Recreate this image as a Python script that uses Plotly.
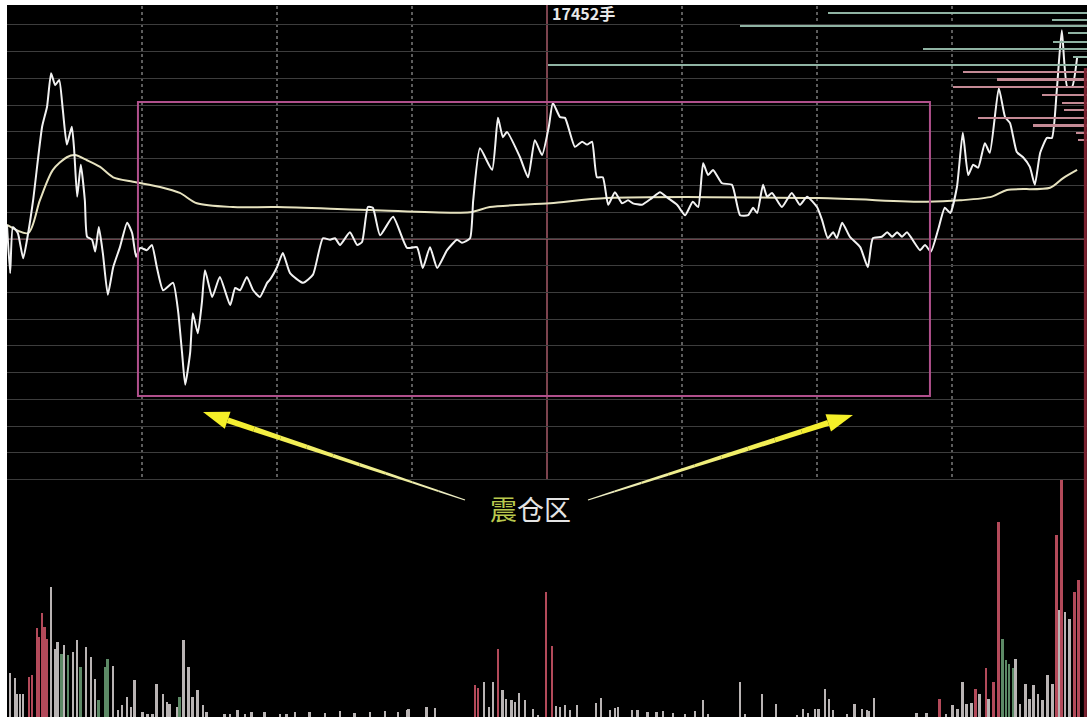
import plotly.graph_objects as go

# ---- price panel (minutes after open, price) --------------------------------
PREV_CLOSE = 7.20
GRID_STEP = 0.036

PRICE_T = [0.0, 0.7, 1.3, 2.4, 3.6, 4.7, 5.8, 7.8, 8.9, 9.8, 10.7, 11.6, 12.4, 13.3, 14.4, 14.9,
           15.6, 16.4, 17.3, 17.8, 18.9, 19.6, 20.4, 21.3, 22.4, 23.6, 25.1, 26.7, 27.8, 28.7,
           29.6, 31.1, 32.2, 33.3, 34.7, 36.9, 38.0, 38.9, 39.6, 40.7, 41.3, 42.4, 43.3, 44.0,
           45.6, 47.3, 49.6, 50.7, 51.8, 53.3, 54.7, 56.2, 57.8, 58.4, 60.0, 61.3, 62.9, 65.8,
           68.0, 70.2, 71.8, 72.9, 74.0, 76.2, 77.8, 78.9, 80.2, 81.3, 82.9, 85.8, 88.9, 91.1,
           92.4, 94.0, 95.6, 97.8, 100.0, 101.1, 102.9, 103.6, 105.1, 107.8, 109.1, 110.2, 111.1,
           114.0, 115.8, 117.3, 118.9, 120.4, 121.3, 122.9, 124.0, 126.2, 127.8, 128.9, 130.0,
           131.1, 132.4, 133.6, 135.1, 136.7, 138.0, 139.1, 141.1, 143.3, 145.1, 146.9, 148.9,
           150.7, 152.4, 153.6, 154.7, 155.8, 156.9, 158.9, 161.1, 162.9, 164.7, 165.8, 166.7,
           168.0, 168.9, 170.0, 172.2, 174.4, 176.2, 177.8, 180.0, 181.1, 182.4, 183.6, 184.4,
           185.6, 187.3, 189.6, 191.3, 192.4, 194.4, 195.6, 196.7, 197.8, 198.9, 200.0, 202.9,
           204.0, 205.3, 206.9, 208.4, 209.6, 211.1, 212.4, 213.6, 214.7, 215.8, 217.3, 218.4,
           220.4, 221.8, 222.9, 224.4, 225.8, 227.3, 228.4, 229.6, 231.1, 232.2, 233.3, 234.4,
           235.6, 236.7, 237.8]
PRICE = [7.219, 7.154, 7.216, 7.208, 7.174, 7.208, 7.252, 7.351, 7.378, 7.423, 7.407, 7.414, 7.374,
         7.327, 7.351, 7.322, 7.257, 7.300, 7.252, 7.203, 7.199, 7.183, 7.216, 7.181, 7.125, 7.162,
         7.189, 7.222, 7.208, 7.176, 7.188, 7.185, 7.192, 7.162, 7.131, 7.141, 7.104, 7.047, 7.004,
         7.047, 7.100, 7.073, 7.114, 7.158, 7.122, 7.149, 7.111, 7.134, 7.131, 7.149, 7.131, 7.122,
         7.141, 7.145, 7.162, 7.181, 7.154, 7.141, 7.152, 7.201, 7.199, 7.201, 7.192, 7.209, 7.192,
         7.196, 7.243, 7.242, 7.205, 7.230, 7.188, 7.189, 7.161, 7.189, 7.161, 7.185, 7.199, 7.195,
         7.201, 7.252, 7.322, 7.293, 7.363, 7.337, 7.344, 7.310, 7.283, 7.333, 7.313, 7.351, 7.383,
         7.364, 7.363, 7.324, 7.331, 7.327, 7.331, 7.283, 7.283, 7.246, 7.263, 7.248, 7.252, 7.248,
         7.246, 7.255, 7.263, 7.255, 7.246, 7.232, 7.250, 7.243, 7.302, 7.286, 7.293, 7.275, 7.273,
         7.232, 7.232, 7.242, 7.235, 7.273, 7.257, 7.262, 7.243, 7.262, 7.246, 7.257, 7.243, 7.226,
         7.201, 7.209, 7.201, 7.222, 7.203, 7.189, 7.162, 7.201, 7.203, 7.209, 7.203, 7.209, 7.203,
         7.209, 7.185, 7.192, 7.183, 7.212, 7.242, 7.235, 7.270, 7.343, 7.286, 7.300, 7.296, 7.329,
         7.316, 7.403, 7.364, 7.356, 7.317, 7.310, 7.297, 7.273, 7.316, 7.336, 7.336, 7.401, 7.481,
         7.405, 7.405, 7.444]

AVG_T = [0.0, 4.7, 7.3, 10.2, 13.3, 15.1, 17.8, 20.7, 23.6, 28.0, 34.0, 38.4, 42.2, 50.2, 60.0,
         80.7, 102.9, 107.3, 120.7, 133.3, 180.4, 204.4, 211.8, 218.9, 222.2, 231.8, 234.7, 237.8]
AVG = [7.219, 7.208, 7.252, 7.293, 7.310, 7.313, 7.306, 7.297, 7.283, 7.277, 7.270, 7.262, 7.248,
       7.243, 7.243, 7.239, 7.236, 7.243, 7.248, 7.255, 7.255, 7.250, 7.252, 7.257, 7.266, 7.269,
       7.282, 7.293]

# ---- volume panel (hands), by part of the session ----------------------------
VOL_MAX = 17452
# r = up minute, g = down minute, w = unchanged
OPEN_T = [0.7, 1.8, 2.2, 2.9, 3.6, 4.9, 5.6, 6.7, 7.1, 7.8, 8.4, 8.9, 9.8, 10.7, 11.3, 12.2,
          12.7, 13.6, 14.7, 15.6, 16.4, 17.6, 18.7, 19.6, 20.4, 21.8, 22.4, 23.6, 24.7, 25.6,
          26.7, 27.6, 28.4, 30.2, 31.3, 32.4, 33.3, 34.7, 35.6, 36.2, 37.8, 38.4, 39.3, 40.4,
          41.3, 42.4, 43.6, 44.4]
OPEN_V = [3240, 2870, 1690, 1690, 1690, 2950, 3090, 6550, 5890, 7660, 6630, 5740, 9570, 5010,
          5520, 4640, 5300, 4570, 4790, 5670, 3680, 5150, 4420, 2800, 1250, 3680, 4270, 3760,
          520, 880, 1470, 740, 2720, 370, 220, 220, 2430, 1690, 1100, 960, 740, 1470, 5670,
          3680, 1470, 1990, 880, 370]
OPEN_D = "wwwww" "rrrrrrr" "wwwgwgwwgwwwggg" "wwwwwwwwwwwwww" "g" "wwwwww"

MORNING_T = [48.4, 49.6, 51.3, 52.9, 54.4, 57.3, 60.7, 62.2, 64.0, 67.3, 70.7, 74.0, 77.3, 80.7,
             84.0, 86.9, 88.9, 89.3, 93.3, 95.1]
MORNING_V = [220, 220, 520, 220, 370, 370, 220, 220, 370, 370, 290, 440, 290, 370, 440, 370, 520,
             590, 740, 660]
MORNING_D = "w" * 20

NOON_T = [104.0, 104.7, 106.0, 107.1, 108.0, 109.1, 110.2, 110.9, 112.2, 112.9, 113.8, 115.1,
          116.9, 118.0, 119.8, 121.1, 122.0, 122.9, 124.0, 125.1, 126.7, 130.9, 132.0, 134.0,
          135.1, 135.8, 138.9, 140.2, 142.4, 144.4, 145.8, 148.0]
NOON_V = [2360, 2140, 2580, 740, 2580, 5010, 1990, 1330, 1250, 1100, 1770, 1250, 590, 150, 9200,
          5230, 810, 740, 880, 520, 880, 1030, 1400, 520, 660, 740, 520, 520, 370, 370, 440, 290]
NOON_D = "rrwwwr" "wwwwwwww" "rr" + "w" * 16

AFTERNOON_T = [150.7, 152.9, 154.7, 155.8, 162.9, 164.0, 167.8, 170.9, 175.6, 176.9, 178.0, 179.6,
               180.4, 181.8, 182.7, 183.6, 186.7, 188.4, 190.0, 191.1, 191.6, 192.7, 202.2, 204.4]
AFTERNOON_V = [220, 440, 1250, 220, 2580, 220, 1690, 960, 150, 590, 290, 590, 590, 2060, 1330,
               520, 220, 960, 590, 520, 440, 1400, 290, 290]
AFTERNOON_D = "w" * 24

CLOSE_T = [207.3, 208.7, 210.2, 211.3, 212.4, 213.3, 214.4, 215.3, 216.2, 217.6, 218.2, 219.3,
           220.4, 221.3, 222.0, 222.7, 223.6, 224.2, 225.1, 226.4, 227.3, 228.2, 229.1, 230.2,
           231.3, 232.4, 233.3, 233.8, 234.4, 235.1, 236.2, 237.3, 238.2]
CLOSE_V = [1330, 220, 880, 590, 2580, 960, 1030, 2060, 1690, 3610, 1330, 2580, 14360, 5740, 4200,
           3900, 3610, 4270, 960, 2430, 1330, 2360, 1690, 1250, 3090, 2430, 13400, 7880, 17452,
           7730, 7220, 9200, 10090]
CLOSE_D = "r" "wwwwww" "r" "w" "r" "w" "rr" "gggg" "wwwwwwwww" "r" "w" "r" "ww" "rr"

# ---- price-level depth lines at the upper right ------------------------------
DEPTH_P = [7.505, 7.495, 7.487, 7.477, 7.465, 7.456, 7.445, 7.434, 7.425, 7.415, 7.405, 7.394,
           7.383, 7.374, 7.363, 7.353, 7.343, 7.333]
DEPTH_V = [5180, 700, 6940, 380, 680, 3280, 280, 10780, 2480, 1800, 2680, 900, 500, 460, 2180,
           1080, 220, 180]
LAST_LEVEL = 7.43

TOP_LABEL = "17452手"
ZONE_LABEL = "震仓区"

# ---- geometry ---------------------------------------------------------------
W, H = 1090, 722
ML, MR, MT, MB = 7, 3, 5, 5
PW, PH = W - ML - MR, H - MT - MB
Y_RANGE = [6.5567, 7.5149]
VOL_DOMAIN_TOP = 0.3329

vol_t, vol_v, vol_d = [], [], []
for ts, vs, ds in [(OPEN_T, OPEN_V, OPEN_D), (MORNING_T, MORNING_V, MORNING_D),
                   (NOON_T, NOON_V, NOON_D), (AFTERNOON_T, AFTERNOON_V, AFTERNOON_D),
                   (CLOSE_T, CLOSE_V, CLOSE_D)]:
    assert len(ts) == len(vs) == len(ds), (len(ts), len(vs), len(ds))
    vol_t += ts
    vol_v += vs
    vol_d += list(ds)

assert len(PRICE_T) == len(PRICE)
assert len(AVG_T) == len(AVG)


def to_paper(px, py):
    return (px - ML) / PW, (H - MB - py) / PH


def arrow_shapes(tail, tip, n=9, head_len=26, head_half=9.0, tail_half=0.6, neck_half=3.0):
    """Tapered arrow: thin whitish tail widening into a yellow head (pixel geometry)."""
    tx, ty = tail
    hx, hy = tip
    dx, dy = hx - tx, hy - ty
    length = (dx * dx + dy * dy) ** 0.5
    ux, uy = dx / length, dy / length
    nx, ny = -uy, ux
    bx, by = hx - head_len * ux, hy - head_len * uy
    out = []
    c0, c1 = (236, 236, 205), (245, 240, 40)
    for i in range(n):
        f0, f1 = i / n, (i + 1) / n
        ax0, ay0 = tx + (bx - tx) * f0, ty + (by - ty) * f0
        ax1, ay1 = tx + (bx - tx) * f1, ty + (by - ty) * f1
        w0 = tail_half + (neck_half - tail_half) * f0
        w1 = tail_half + (neck_half - tail_half) * f1
        pts = [(ax0 + w0 * nx, ay0 + w0 * ny), (ax1 + w1 * nx, ay1 + w1 * ny),
               (ax1 - w1 * nx, ay1 - w1 * ny), (ax0 - w0 * nx, ay0 - w0 * ny)]
        col = tuple(int(c0[k] + (c1[k] - c0[k]) * (f0 + f1) / 2) for k in range(3))
        out.append((pts, "rgb(%d,%d,%d)" % col))
    head = [(bx + head_half * nx, by + head_half * ny), (hx, hy),
            (bx - head_half * nx, by - head_half * ny)]
    out.append((head, "rgb(245,240,40)"))
    shapes = []
    for pts, col in out:
        pp = [to_paper(x, y) for x, y in pts]
        path = "M " + " L ".join("%.5f,%.5f" % p for p in pp) + " Z"
        shapes.append(dict(type="path", xref="paper", yref="paper", path=path,
                           fillcolor=col, line=dict(width=0), layer="above"))
    return shapes


fig = go.Figure()

# volume bars
dir_color = {"r": "#b34a5a", "g": "#5d8a66", "w": "#b9b4b4"}
fig.add_trace(go.Bar(
    x=vol_t, y=vol_v, width=0.42, yaxis="y2",
    marker=dict(color=[dir_color[d] for d in vol_d], line=dict(width=0)),
))

# depth lines from the right edge
fig.add_trace(go.Bar(
    y=DEPTH_P, x=DEPTH_V, orientation="h", xaxis="x2", width=0.0022,
    marker=dict(color=["#8fb3a3" if p >= LAST_LEVEL else "#c48a95" for p in DEPTH_P],
                line=dict(width=0)),
))

# average price line
fig.add_trace(go.Scatter(
    x=AVG_T, y=AVG, mode="lines",
    line=dict(color="#e6e2bf", width=2, shape="spline", smoothing=0.8),
))

# price line
fig.add_trace(go.Scatter(
    x=PRICE_T, y=PRICE, mode="lines",
    line=dict(color="#f2f2f2", width=2, shape="spline", smoothing=0.5),
))

shapes = []
# vertical half-hour lines
for m in [30, 60, 90, 150, 180, 210]:
    shapes.append(dict(type="line", xref="x", yref="paper", x0=m, x1=m, y0=0, y1=1,
                       line=dict(color="#b8b8b8", width=1, dash="dot"), layer="below"))
shapes.append(dict(type="line", xref="x", yref="paper", x0=120, x1=120, y0=0, y1=1,
                   line=dict(color="#a65a68", width=1.5), layer="below"))
# previous close and panel separator
shapes.append(dict(type="line", xref="paper", yref="y", x0=0, x1=1, y0=PREV_CLOSE, y1=PREV_CLOSE,
                   line=dict(color="#8f5a64", width=1.5), layer="below"))
shapes.append(dict(type="line", xref="paper", yref="paper", x0=0, x1=1,
                   y0=VOL_DOMAIN_TOP, y1=VOL_DOMAIN_TOP,
                   line=dict(color="#a8606e", width=2), layer="below"))
# right edge band below last price
shapes.append(dict(type="line", xref="paper", yref="y", x0=0.9985, x1=0.9985,
                   y0=Y_RANGE[0], y1=LAST_LEVEL, line=dict(color="#7a2230", width=3)))
# shakeout zone box
shapes.append(dict(type="rect", xref="x", yref="y", x0=29.1, x1=205.1, y0=6.9887, y1=7.3844,
                   line=dict(color="#b0508c", width=2), fillcolor="rgba(0,0,0,0)"))
# arrows
shapes += arrow_shapes((465, 500), (203, 412))
shapes += arrow_shapes((588, 500), (853, 415))

annotations = [
    dict(xref="paper", yref="paper", x=(583 - ML) / PW, y=(H - MB - 13.5) / PH,
         xanchor="center", yanchor="middle",
         text="<b>" + TOP_LABEL + "</b>", showarrow=False,
         font=dict(family="Noto Sans CJK SC", size=16, color="#e8e8e8")),
    dict(xref="paper", yref="paper", x=(530 - ML) / PW, y=(H - MB - 508) / PH,
         xanchor="center", yanchor="middle",
         text="<span style='color:#b9c94e'>" + ZONE_LABEL[0] + "</span>" + ZONE_LABEL[1:],
         showarrow=False,
         font=dict(family="Noto Sans CJK SC", size=27, color="#e4e4e4")),
]

fig.update_layout(
    width=W, height=H,
    margin=dict(l=ML, r=MR, t=MT, b=MB),
    paper_bgcolor="white",
    plot_bgcolor="black",
    showlegend=False,
    bargap=0,
    shapes=shapes,
    annotations=annotations,
    xaxis=dict(range=[0, 240], showgrid=False, zeroline=False, showticklabels=False,
               ticks="", showline=False),
    xaxis2=dict(range=[PW * 20, 0], overlaying="x", visible=False),
    yaxis=dict(range=Y_RANGE, showgrid=True, gridcolor="#3d3d3d", gridwidth=1,
               tick0=PREV_CLOSE, dtick=GRID_STEP, zeroline=False, showticklabels=False,
               ticks="", showline=False),
    yaxis2=dict(domain=[0, VOL_DOMAIN_TOP], range=[0, VOL_MAX], showgrid=False,
                zeroline=False, showticklabels=False, anchor="x"),
)

# the page body has a default 8px margin; drop it so the figure sits at the window origin
fig.write_html("out.html", config={"displayModeBar": False},
               post_script="document.body.style.margin = '0';")
